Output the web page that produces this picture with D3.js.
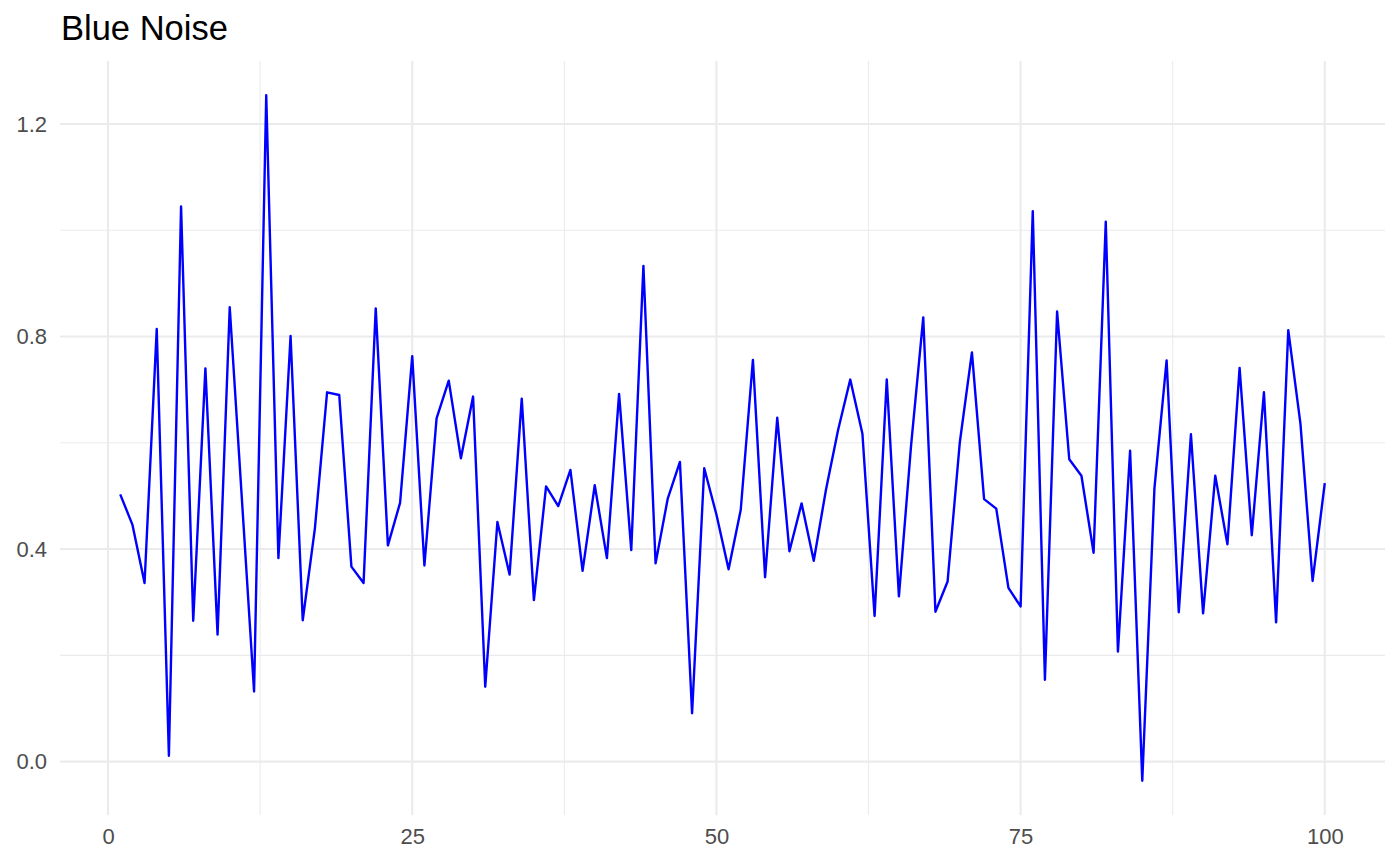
<!DOCTYPE html>
<html lang="en">
<head>
<meta charset="utf-8">
<script src="https://cdn.jsdelivr.net/npm/d3@7/dist/d3.min.js"></script>
<style>
  body { margin: 0; background: #fff; }
  svg { display: block; font-family: "Liberation Sans", Arial, sans-serif; }
</style>
</head>
<body>
<svg width="1400" height="865"></svg>
<script>
// x positions 1..100
const xs = d3.range(1, 101);
// values
const noise = [
  0.503, 0.446, 0.336, 0.814, 0.011, 1.045, 0.265, 0.740, 0.239, 0.855,
  0.494, 0.132, 1.254, 0.383, 0.801, 0.266, 0.439, 0.695, 0.690, 0.367,
  0.336, 0.853, 0.407, 0.487, 0.763, 0.369, 0.646, 0.717, 0.571, 0.687,
  0.141, 0.451, 0.352, 0.683, 0.304, 0.518, 0.481, 0.549, 0.359, 0.520,
  0.383, 0.692, 0.398, 0.933, 0.373, 0.495, 0.564, 0.091, 0.552, 0.465,
  0.362, 0.474, 0.756, 0.347, 0.647, 0.396, 0.486, 0.378, 0.511, 0.624,
  0.719, 0.617, 0.274, 0.719, 0.311, 0.595, 0.836, 0.282, 0.339, 0.600,
  0.770, 0.494, 0.476, 0.327, 0.292, 1.036, 0.154, 0.847, 0.569, 0.538,
  0.393, 1.016, 0.207, 0.585, -0.036, 0.514, 0.755, 0.281, 0.616, 0.279,
  0.538, 0.409, 0.741, 0.426, 0.695, 0.262, 0.812, 0.636, 0.340, 0.524
];
const xTicks = [0, 25, 50, 75, 100];
const xMinor = [12.5, 37.5, 62.5, 87.5];
const yTicks = [0.0, 0.4, 0.8, 1.2];
const yMinor = [0.2, 0.6, 1.0];
const title = "Blue Noise";

const svg = d3.select("svg");
const panel = { left: 60, right: 1385, top: 61, bottom: 815 };

// ggplot style 5% expansion of the data range
const pad = (ext) => {
  const d = (ext[1] - ext[0]) * 0.05;
  return [ext[0] - d, ext[1] + d];
};
const x = d3.scaleLinear().domain(pad(d3.extent(xs))).range([panel.left, panel.right]);
const y = d3.scaleLinear().domain(pad(d3.extent(noise))).range([panel.bottom, panel.top]);

const grid = svg.append("g");
grid.selectAll(".ymin").data(yMinor).enter().append("line")
  .attr("x1", panel.left).attr("x2", panel.right)
  .attr("y1", d => y(d)).attr("y2", d => y(d))
  .attr("stroke", "#ebebeb").attr("stroke-width", 1.1);
grid.selectAll(".xmin").data(xMinor).enter().append("line")
  .attr("y1", panel.top).attr("y2", panel.bottom)
  .attr("x1", d => x(d)).attr("x2", d => x(d))
  .attr("stroke", "#ebebeb").attr("stroke-width", 1.1);
grid.selectAll(".ymaj").data(yTicks).enter().append("line")
  .attr("x1", panel.left).attr("x2", panel.right)
  .attr("y1", d => y(d)).attr("y2", d => y(d))
  .attr("stroke", "#ebebeb").attr("stroke-width", 2.1);
grid.selectAll(".xmaj").data(xTicks).enter().append("line")
  .attr("y1", panel.top).attr("y2", panel.bottom)
  .attr("x1", d => x(d)).attr("x2", d => x(d))
  .attr("stroke", "#ebebeb").attr("stroke-width", 2.1);

// axes: only labels, no domain line or ticks (theme_minimal)
const yAxis = svg.append("g")
  .attr("transform", `translate(${panel.left},0)`)
  .call(d3.axisLeft(y).tickValues(yTicks).tickFormat(d3.format(".1f")).tickSize(0).tickPadding(13));
const xAxis = svg.append("g")
  .attr("transform", `translate(0,${panel.bottom})`)
  .call(d3.axisBottom(x).tickValues(xTicks).tickFormat(d3.format("d")).tickSize(0).tickPadding(13));
[yAxis, xAxis].forEach(a => {
  a.select(".domain").remove();
  a.selectAll("text")
    .attr("fill", "#4d4d4d")
    .style("font-size", "22px")
    .style("font-family", "'Liberation Sans', Arial, sans-serif");
});

const line = d3.line()
  .x((d, i) => x(xs[i]))
  .y(d => y(d));
svg.append("path")
  .datum(noise)
  .attr("d", line)
  .attr("fill", "none")
  .attr("stroke", "#0000ff")
  .attr("stroke-width", 2.4)
  .attr("stroke-linejoin", "round");

svg.append("text")
  .attr("x", 61)
  .attr("y", 40)
  .attr("fill", "#000")
  .style("font-size", "34.5px")
  .text(title);
</script>
</body>
</html>
